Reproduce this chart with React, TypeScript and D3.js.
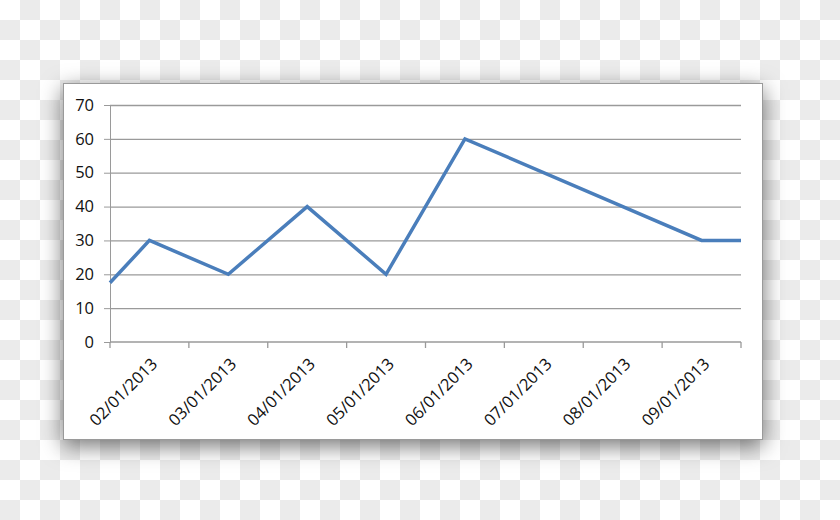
import { useEffect, useRef } from 'react';
import * as d3 from 'd3';

const CATEGORIES = ['02/01/2013', '03/01/2013', '04/01/2013', '05/01/2013', '06/01/2013', '07/01/2013', '08/01/2013', '09/01/2013'];
// position of each point in category units (0 = first category centre), edges at -0.5 and 7.5
const POINT_X = [-0.5, 0, 1, 2, 3, 4, 7, 7.5];
const POINT_Y = [17.5, 30, 20, 40, 20, 60, 30, 30];
const Y_TICKS = [0, 10, 20, 30, 40, 50, 60, 70];

const FONT = "'Open Sans', 'Noto Sans', sans-serif";

export default function App() {
  const svgRef = useRef<SVGSVGElement>(null);

  useEffect(() => {
    const el = svgRef.current;
    if (!el) return;
    const svg = d3.select(el);
    svg.selectAll('*').remove();

    const W = 840;
    const H = 520;
    svg.attr('width', W).attr('height', H);

    const defs = svg.append('defs');
    const pat = defs.append('pattern')
      .attr('id', 'checker').attr('width', 40).attr('height', 40)
      .attr('patternUnits', 'userSpaceOnUse');
    pat.append('rect').attr('width', 40).attr('height', 40).attr('fill', '#ffffff');
    pat.append('rect').attr('x', 20).attr('y', 0).attr('width', 20).attr('height', 20).attr('fill', '#ebebeb');
    pat.append('rect').attr('x', 0).attr('y', 20).attr('width', 20).attr('height', 20).attr('fill', '#ebebeb');

    const shadow = defs.append('filter').attr('id', 'shadow')
      .attr('x', '-20%').attr('y', '-20%').attr('width', '140%').attr('height', '140%');
    shadow.append('feDropShadow')
      .attr('dx', 0).attr('dy', 6).attr('stdDeviation', 11)
      .attr('flood-color', '#000').attr('flood-opacity', 0.55);

    svg.append('rect').attr('width', W).attr('height', H).attr('fill', 'url(#checker)');

    // chart box
    const box = { x: 63, y: 83, w: 700, h: 357 };
    svg.append('rect')
      .attr('x', box.x).attr('y', box.y).attr('width', box.w).attr('height', box.h)
      .attr('fill', '#fff').attr('filter', 'url(#shadow)');
    svg.append('rect')
      .attr('x', box.x + 0.5).attr('y', box.y + 0.5).attr('width', box.w - 1).attr('height', box.h - 1)
      .attr('fill', 'none').attr('stroke', '#9a9a9a').attr('stroke-width', 1);

    const x = d3.scaleLinear().domain([-0.5, CATEGORIES.length - 0.5]).range([110, 741]);
    const y = d3.scaleLinear().domain([0, 70]).range([342, 105]);

    const g = svg.append('g');

    // y axis with outward ticks
    g.append('g')
      .attr('transform', `translate(${x(-0.5)},0)`)
      .call(d3.axisLeft(y).tickValues(Y_TICKS).tickSize(6).tickPadding(10).tickFormat(d3.format('d')))
      .call((a) => a.select('.domain').attr('stroke', '#9a9a9a'))
      .call((a) => a.selectAll('.tick line').attr('stroke', '#9a9a9a'))
      .call((a) => a.selectAll('.tick text').attr('fill', '#111').attr('font-size', '16.5px').attr('font-family', FONT));

    // horizontal grid
    g.append('g')
      .selectAll('line')
      .data(Y_TICKS.filter((t) => t > 0))
      .join('line')
      .attr('x1', x(-0.5)).attr('x2', x(CATEGORIES.length - 0.5))
      .attr('y1', (d) => y(d) + 0.5).attr('y2', (d) => y(d) + 0.5)
      .attr('stroke', '#9a9a9a').attr('stroke-width', 1.3);

    // x axis: tick marks at category boundaries
    const bounds = d3.range(CATEGORIES.length + 1).map((i) => i - 0.5);
    const xa = g.append('g').attr('transform', `translate(0,${y(0)})`);
    xa.append('line')
      .attr('x1', x(-0.5)).attr('x2', x(CATEGORIES.length - 0.5))
      .attr('stroke', '#9a9a9a').attr('stroke-width', 1.3);
    xa.selectAll('line.tk')
      .data(bounds)
      .join('line')
      .attr('class', 'tk')
      .attr('x1', (d) => x(d)).attr('x2', (d) => x(d))
      .attr('y1', 0).attr('y2', 6)
      .attr('stroke', '#9a9a9a').attr('stroke-width', 1.3);
    xa.selectAll('text')
      .data(CATEGORIES)
      .join('text')
      .attr('transform', (_, i) => `translate(${x(i) + 9},${23}) rotate(-45)`)
      .attr('text-anchor', 'end')
      .attr('font-size', '16.5px')
      .attr('font-family', FONT)
      .attr('fill', '#111')
      .text((d) => d);

    // series line
    const pts = POINT_X.map((px, i) => [px, POINT_Y[i]] as [number, number]);
    g.append('path')
      .datum(pts)
      .attr('d', d3.line<[number, number]>().x((d) => x(d[0])).y((d) => y(d[1])))
      .attr('fill', 'none')
      .attr('stroke', '#4a7ebb')
      .attr('stroke-width', 3.5)
      .attr('stroke-linejoin', 'miter');
  }, []);

  return (
    <svg ref={svgRef} style={{ position: 'absolute', left: 0, top: 0 }} />
  );
}
